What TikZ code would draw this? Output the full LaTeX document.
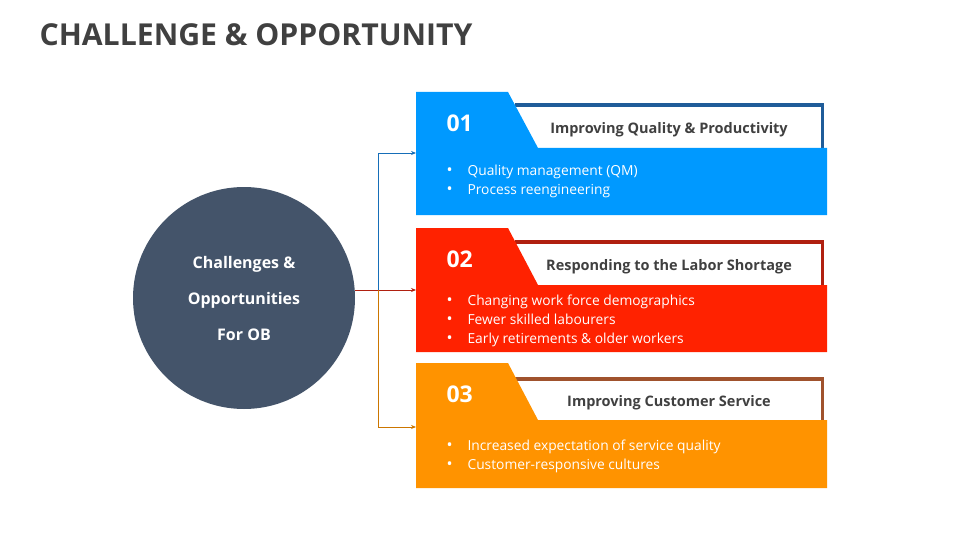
\documentclass[tikz,border=0pt]{standalone}
\usepackage{fontspec}
\setmainfont{Open Sans}
\usetikzlibrary{arrows.meta}
\begin{document}
\begin{tikzpicture}[x=1pt,y=-1pt,
  hdr/.style={font=\bfseries\fontsize{14.5}{18}\selectfont,text=black!75},
  num/.style={font=\bfseries\fontsize{23}{28}\selectfont,text=white,anchor=west},
  item/.style={font=\fontsize{13.8}{19}\selectfont,text=white,anchor=north west,align=left},
  conn/.style={-{Stealth[length=5pt,width=4pt]},line width=0.8pt}]
\useasboundingbox (0,0) rectangle (960,540);
\definecolor{cblue}{HTML}{0099FF}\definecolor{dblue}{HTML}{1F5C99}
\definecolor{cred}{HTML}{FF2200}\definecolor{dred}{HTML}{B02010}
\definecolor{corg}{HTML}{FF9300}\definecolor{dorg}{HTML}{A0522D}
\definecolor{circ}{HTML}{44546A}
\node[anchor=west,font=\bfseries\fontsize{30.2}{34}\selectfont,text=black!75] (title) at (36,35) {CHALLENGE \& OPPORTUNITY};
\node[circle,fill=circ,minimum size=222pt,inner sep=0,text=white,align=center,
  font=\bfseries\fontsize{16}{36}\selectfont] (c) at (244,298) {Challenges \&\\Opportunities\\For OB};
\newcommand{\cbox}[9]{%
 \fill[#6] (515,#2) rectangle (824,#3);
 \fill[white] (515,#2+4) rectangle (821,#3);
 \fill[#5] (416,#1) -- (508,#1) -- (538,#3) -- (827,#3) -- (827,#4) -- (416,#4) -- cycle;
 \node[num] (n#9) at (443,#1+31) {#7};
 \node[hdr] (h#9) at (669,{(#2+#3)/2+4}) {#8};
}
\newcommand{\bl}{{\fontsize{16}{19}\selectfont•}\hspace{15pt}}
\cbox{92}{103}{148}{215}{cblue}{dblue}{01}{Improving Quality \& Productivity}{a}
\cbox{228}{240}{285}{352}{cred}{dred}{02}{Responding to the Labor Shortage}{b}
\cbox{363}{377}{420}{488}{corg}{dorg}{03}{Improving Customer Service}{c}
\node[item] (ia) at (443,161) {\bl Quality management (QM)\\\bl Process reengineering};
\node[item] (ib) at (443,291) {\bl Changing work force demographics\\\bl Fewer skilled labourers\\\bl Early retirements \& older workers};
\node[item] (ic) at (443,436) {\bl Increased expectation of service quality\\\bl Customer-responsive cultures};
\coordinate (ta) at (416,153); \coordinate (tb) at (416,290); \coordinate (tc) at (416,427);
\coordinate (j) at (378,290);
\draw[conn,dblue!70!cblue] (c.east |- j) -- (j) |- (ta);
\draw[conn,dred] (c.east |- j) -- (tb);
\draw[conn,corg!80!black] (j) |- (tc);
\end{tikzpicture}
\end{document}
